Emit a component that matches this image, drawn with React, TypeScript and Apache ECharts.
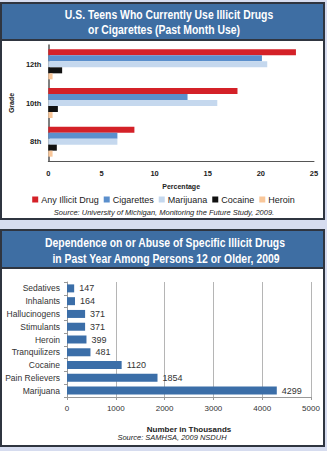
import React, { useEffect, useRef } from "react";
import * as echarts from "echarts";

const grades = ["12th", "10th", "8th"];
const anyIllicit = [23.3, 17.8, 8.1];
const cigarettes = [20.1, 13.1, 6.5];
const marijuana = [20.6, 15.9, 6.5];
const cocaine = [1.3, 0.9, 0.8];
const heroin = [0.4, 0.4, 0.4];
const pctTicks = [0, 25, 5];

const drugs = ["Sedatives", "Inhalants", "Hallucinogens", "Stimulants", "Heroin", "Tranquilizers", "Cocaine", "Pain Relievers", "Marijuana"];
const drugValues = [147, 164, 371, 371, 399, 481, 1120, 1854, 4299];
const numTicks = [0, 5000, 1000];

const SANS = "'Liberation Sans', Arial, sans-serif";

export default function App() {
  const ref = useRef<HTMLDivElement>(null);
  useEffect(() => {
    const chart = echarts.init(ref.current!, null, { renderer: "svg" });
    const headerBlue = "#3e6ea3";
    const border = "#2f3540";
    const series1 = [
      { name: "Any Illicit Drug", data: anyIllicit, color: "#d42128" },
      { name: "Cigarettes", data: cigarettes, color: "#5b8fcc" },
      { name: "Marijuana", data: marijuana, color: "#c5d8ee" },
      { name: "Cocaine", data: cocaine, color: "#111111" },
      { name: "Heroin", data: heroin, color: "#f9c79a" },
    ];
    const titleStyle = { fill: "#fff", font: `bold 13px ${SANS}`, align: "center", verticalAlign: "middle" };
    const sx = 0.8;
    chart.setOption({
      animation: false,
      backgroundColor: "#d6dcef",
      graphic: [
        { type: "rect", z: -10, shape: { x: 1, y: 3, width: 323, height: 216 }, style: { fill: "#ffffff", stroke: border, lineWidth: 2 } },
        { type: "rect", z: -9, shape: { x: 1, y: 3, width: 323, height: 37 }, style: { fill: headerBlue, stroke: border, lineWidth: 2 } },
        { type: "rect", z: -10, shape: { x: 1, y: 230, width: 323, height: 216 }, style: { fill: "#ffffff", stroke: border, lineWidth: 2 } },
        { type: "rect", z: -9, shape: { x: 1, y: 230, width: 323, height: 38 }, style: { fill: headerBlue, stroke: border, lineWidth: 2 } },
        { type: "text", z: 10, x: 169, y: 14.5, scaleX: sx, style: { ...titleStyle, text: "U.S. Teens Who Currently Use Illicit Drugs" } },
        { type: "text", z: 10, x: 164, y: 29.5, scaleX: sx, style: { ...titleStyle, text: "or Cigarettes (Past Month Use)" } },
        { type: "text", z: 10, x: 165, y: 242.5, scaleX: sx, style: { ...titleStyle, text: "Dependence on or Abuse of Specific Illicit Drugs" } },
        { type: "text", z: 10, x: 166, y: 258.5, scaleX: sx, style: { ...titleStyle, text: "in Past Year Among Persons 12 or Older, 2009" } },
      ],
      title: [
        {
          text: "Source: University of Michigan, Monitoring the Future Study, 2009.",
          left: 164, top: 208, textAlign: "center", padding: 0,
          textStyle: { color: "#222", fontFamily: SANS, fontStyle: "italic", fontWeight: "normal", fontSize: 7.5 },
        },
        {
          text: "Source: SAMHSA, 2009 NSDUH",
          left: 172, top: 433, textAlign: "center", padding: 0,
          textStyle: { color: "#222", fontFamily: SANS, fontStyle: "italic", fontWeight: "normal", fontSize: 7.5 },
        },
      ],
      legend: {
        top: 195, left: "center", padding: 0, itemWidth: 6, itemHeight: 6, itemGap: 5,
        icon: "rect",
        data: series1.map((s) => s.name),
        textStyle: { fontFamily: SANS, fontSize: 9, color: "#222", padding: [0, 0, 0, -2] },
      },
      grid: [
        { left: 43, top: 45, width: 271, height: 116 },
        { left: 67, top: 282, width: 244, height: 115 },
      ],
      xAxis: [
        {
          gridIndex: 0, type: "value", min: pctTicks[0], max: pctTicks[1], interval: pctTicks[2],
          axisLine: { show: true, lineStyle: { color: "#555", width: 1 } },
          axisTick: { show: false }, splitLine: { show: false },
          axisLabel: { fontFamily: SANS, fontWeight: "bold", fontSize: 7.5, color: "#222", margin: 8 },
          name: "Percentage", nameLocation: "middle", nameGap: 22,
          nameTextStyle: { fontFamily: SANS, fontWeight: "bold", fontSize: 7, color: "#222" },
        },
        {
          gridIndex: 1, type: "value", min: numTicks[0], max: numTicks[1], interval: numTicks[2],
          axisLine: { show: true, lineStyle: { color: "#999", width: 1 } },
          axisTick: { show: true, length: 3, lineStyle: { color: "#999" } },
          splitLine: { show: true, lineStyle: { color: "#b5b5b5", width: 1 } },
          axisLabel: { fontFamily: SANS, fontSize: 8, color: "#333", margin: 7, formatter: (v: number) => String(v) },
          name: "Number in Thousands", nameLocation: "middle", nameGap: 28,
          nameTextStyle: { fontFamily: SANS, fontWeight: "bold", fontSize: 8, color: "#222" },
        },
      ],
      yAxis: [
        {
          gridIndex: 0, type: "category", data: grades, inverse: true,
          axisLine: { show: true, lineStyle: { color: "#555", width: 1.5 } },
          axisTick: { show: false },
          axisLabel: { fontFamily: SANS, fontWeight: "bold", fontSize: 7.5, color: "#222", margin: 7 },
          name: "Grade", nameLocation: "middle", nameRotate: 90, nameGap: 28,
          nameTextStyle: { fontFamily: SANS, fontWeight: "bold", fontSize: 7, color: "#222" },
        },
        {
          gridIndex: 1, type: "category", data: drugs, inverse: true,
          axisLine: { show: true, lineStyle: { color: "#999", width: 1 } },
          axisTick: { show: true, length: 3, lineStyle: { color: "#999" } },
          axisLabel: { fontFamily: SANS, fontSize: 8.5, color: "#333", margin: 7, interval: 0 },
        },
      ],
      series: [
        ...series1.map((s) => ({
          type: "bar", name: s.name, data: s.data, xAxisIndex: 0, yAxisIndex: 0,
          barWidth: 6, barGap: "0%", itemStyle: { color: s.color },
        })),
        {
          type: "bar", name: "Dependence", data: drugValues, xAxisIndex: 1, yAxisIndex: 1,
          barWidth: 8, itemStyle: { color: "#3b6ea8" },
          label: { show: true, position: "right", distance: 5, fontFamily: SANS, fontSize: 9, color: "#333" },
        },
      ],
    });
    return () => chart.dispose();
  }, []);
  return <div ref={ref} style={{ position: "absolute", left: 0, top: 0, width: 327, height: 451 }} />;
}
